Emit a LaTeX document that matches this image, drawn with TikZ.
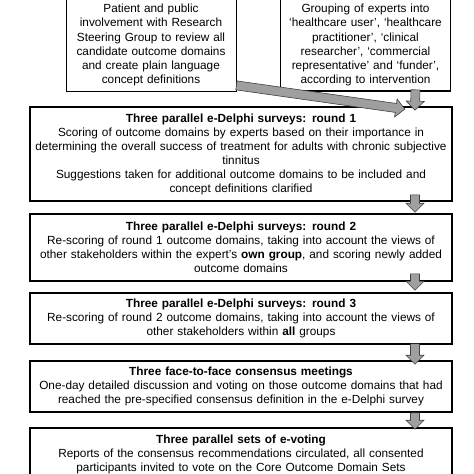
\documentclass[tikz,border=0pt]{standalone}
\usepackage{fontspec}
\setmainfont{Liberation Sans}
\usepackage{tikz}
\usetikzlibrary{calc}

\tikzset{
  stage/.style={draw, line width=1.6pt, minimum width=422pt, text width=420pt, align=center, inner sep=0pt, font=\fontsize{11.8}{14}\selectfont},
  topbox/.style={draw, minimum width=170pt, text width=168pt, minimum height=92pt, align=center, inner sep=0pt, font=\fontsize{11.8}{14.1}\selectfont},
  blockarrow/.style={fill=gray!75, draw=black!75, line width=0.6pt, line join=miter},
}
\newcommand{\fatarrow}[2]{%
  \draw[blockarrow] let \p1=(#1), \p2=(#2), \n1={atan2(\y2-\y1,\x2-\x1)}, \n2={veclen(\x2-\x1,\y2-\y1)} in
    [shift={(\p1)}, rotate=\n1] (0pt,4.5pt) -- ({(\n2-9)*1pt},4.5pt) -- ({(\n2-9)*1pt},9pt) -- ({\n2*1pt},0pt)
    -- ({(\n2-9)*1pt},-9pt) -- ({(\n2-9)*1pt},-4.5pt) -- (0pt,-4.5pt) -- cycle;}

\begin{document}
\begin{tikzpicture}[x=1pt,y=-1pt]
  \clip (0,0) rectangle (474,474);
  \fill[white] (0,0) rectangle (474,474);

  \node[topbox, line width=0.8pt] (ppi) at (151,45) {Patient and public\\ involvement with Research\\ Steering Group to review all\\ candidate outcome domains\\ and create plain language\\ concept definitions};
  \node[topbox, line width=1.6pt] (group) at (365.5,45) {Grouping of experts into\\ ‘healthcare user’, ‘healthcare\\ practitioner’, ‘clinical\\ researcher’, ‘commercial\\ representative’ and ‘funder’,\\ according to intervention};

  \node[stage, minimum height=94pt] (round1) at (241,154) {\textbf{Three parallel e-Delphi surveys: round 1}\\ Scoring of outcome domains by experts based on their importance in\\ determining the overall success of treatment for adults with chronic subjective\\ tinnitus\\ Suggestions taken for additional outcome domains to be included and\\ concept definitions clarified};
  \node[stage, minimum height=67pt] (round2) at (241,247.5) {\textbf{Three parallel e-Delphi surveys: round 2}\\ Re-scoring of round 1 outcome domains, taking into account the views of\\ other stakeholders within the expert’s \textbf{own group}, and scoring newly added\\ outcome domains};
  \node[stage, minimum height=51pt] (round3) at (241,318.5) {\textbf{Three parallel e-Delphi surveys: round 3}\\ Re-scoring of round 2 outcome domains, taking into account the views of\\ other stakeholders within \textbf{all} groups};
  \node[stage, minimum height=51pt] (meeting) at (241,386.5) {\textbf{Three face-to-face consensus meetings}\\ One-day detailed discussion and voting on those outcome domains that had\\ reached the pre-specified consensus definition in the e-Delphi survey};
  \node[stage, minimum height=52pt] (voting) at (241,454) {\textbf{Three parallel sets of e-voting}\\ Reports of the consensus recommendations circulated, all consented\\ participants invited to vote on the Core Outcome Domain Sets};

  \coordinate (ppiout) at ($(ppi.south east)+(0,-6)$);
  \coordinate (ppiin) at ($(round1.north east)+(-48,3)$);
  \fatarrow{ppiout}{ppiin}
  \fatarrow{$(group.south)+(50,-2)$}{$(round1.north)+(174,4)$}
  \fatarrow{$(round1.south)+(174,-7)$}{$(round2.north)+(174,-1)$}
  \fatarrow{$(round2.south)+(174,-8)$}{$(round3.north)+(174,-2)$}
  \fatarrow{$(round3.south)+(174,-1)$}{$(meeting.north)+(174,4)$}
  \fatarrow{$(meeting.south)+(174,0)$}{$(voting.north)+(174,2)$}
\end{tikzpicture}
\end{document}
